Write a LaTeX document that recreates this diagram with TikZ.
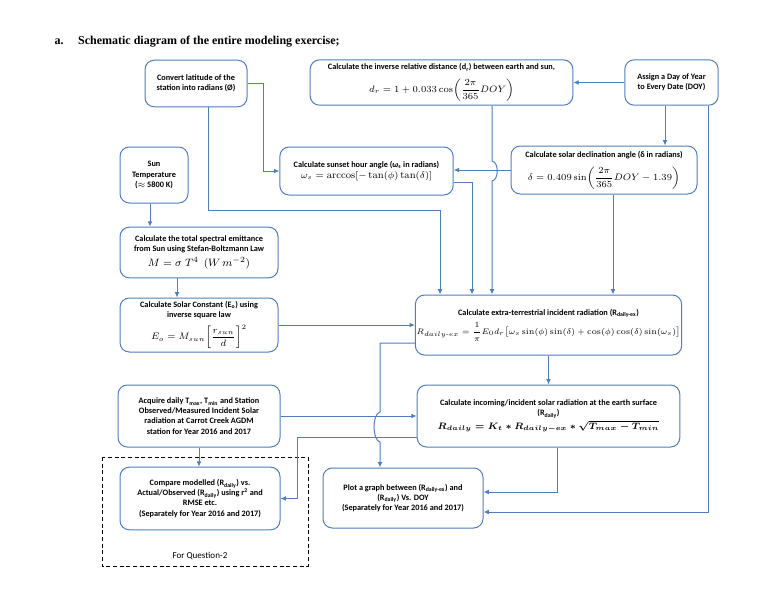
\documentclass[tikz,border=0pt]{standalone}
\usepackage{fontspec}
\usepackage{amsmath}
\setsansfont{Carlito}
\newfontfamily\titlefont{Liberation Serif}
\usetikzlibrary{calc,arrows.meta}
\definecolor{flowblue}{RGB}{79,125,192}
\def\eqfont{\normalfont\fontsize{7}{8.5}\selectfont}
\tikzset{
  box/.style={draw=flowblue, line width=0.75pt, rounded corners=7pt, align=center, inner sep=1pt,
    font=\sffamily\bfseries\fontsize{6.2}{7.6}\selectfont},
  link/.style={draw=flowblue, line width=0.75pt, -{Latex[length=4pt,width=3.6pt]}},
  wire/.style={draw=flowblue, line width=0.75pt}
}

\begin{document}
\begin{tikzpicture}[x=0.75pt,y=-0.75pt]
			%%%%% START %%%%%
			\useasboundingbox (0,0) rectangle (768,594);
			
			\node[anchor=west, font=\titlefont\bfseries\fontsize{9}{11}\selectfont] (title) at (50,42) {a.\hspace{1.2em}Schematic diagram of the entire modeling exercise;};
			
			% top row
			\node[box, minimum width=76.5pt, minimum height=35pt] (lat) at (196,83.5) {Convert latitude of the\\station into radians (Ø)};
			\node[box, minimum width=197pt, minimum height=34pt] (dr) at (441.5,82.5) {Calculate the inverse relative distance (d\textsubscript{r}) between earth and sun,\\[5pt]{\eqfont$d_r = 1+0.033\cos\!\left(\dfrac{2\pi}{365}DOY\right)$}};
			\node[box, minimum width=70pt, minimum height=34pt] (doy) at (671.5,82.5) {Assign a Day of Year\\to Every Date (DOY)};
			
			% second row
			\node[box, minimum width=51pt, minimum height=42pt] (sun) at (154,175) {Sun\\Temperature\\($\approx$ 5800 K)};
			\node[box, minimum width=130pt, minimum height=36pt] (sunset) at (366.5,171) {Calculate sunset hour angle (ω\textsubscript{s} in radians)\\[1pt]{\eqfont\fontsize{7.5}{9}\selectfont$\omega_s = \arccos[-\tan(\phi)\tan(\delta)]$}};
			\node[box, minimum width=139.5pt, minimum height=36pt] (decl) at (604,170) {Calculate solar declination angle (δ in radians)\\[5pt]{\eqfont$\delta = 0.409\sin\!\left(\dfrac{2\pi}{365}DOY - 1.39\right)$}};
			
			% left column
			\node[box, minimum width=118.5pt, minimum height=38pt] (spec) at (199,252.5) {Calculate the total spectral emittance\\from Sun using Stefan-Boltzmann Law\\[2pt]{\eqfont\fontsize{8}{9.5}\selectfont$M = \sigma\;T^4\;\,(W\,m^{-2})$}};
			\node[box, minimum width=118.5pt, minimum height=40.5pt] (solc) at (199,325) {Calculate Solar Constant (E\textsubscript{o}) using\\inverse square law\\[4pt]{\eqfont$E_o = M_{sun}\!\left[\dfrac{r_{sun}}{d}\right]^2$}};
			\node[box, minimum width=121.5pt, minimum height=46.5pt] (acq) at (199,416) {Acquire daily T\textsubscript{max}, T\textsubscript{min} and Station\\Observed/Measured Incident Solar\\radiation at Carrot Creek AGDM\\station for Year 2016 and 2017};
			\node[box, minimum width=120pt, minimum height=47pt] (comp) at (200,498.5) {Compare modelled (R\textsubscript{daily}) vs.\\Actual/Observed (R\textsubscript{daily}) using r\textsuperscript{2} and\\RMSE etc.\\(Separately for Year 2016 and 2017)};
			
			% right column
			\node[box, minimum width=197pt, minimum height=45pt] (extra) at (548.5,325) {Calculate extra-terrestrial incident radiation (R\textsubscript{daily-ex})\\[3pt]{\eqfont\fontsize{6.3}{7.5}\selectfont$R_{daily\text{-}ex} = \dfrac{1}{\pi}E_0 d_r\big[\omega_s\sin(\phi)\sin(\delta)+\cos(\phi)\cos(\delta)\sin(\omega_s)\big]$}};
			\node[box, minimum width=197pt, minimum height=46.5pt] (inc) at (548.5,416) {Calculate incoming/incident solar radiation at the earth surface\\(R\textsubscript{daily})\\[1pt]{\eqfont\boldmath$R_{daily} = K_t * R_{daily-ex} * \sqrt{T_{max}-T_{min}}$}};
			\node[box, minimum width=120pt, minimum height=45pt] (plot) at (403,498) {Plot a graph between (R\textsubscript{daily-ex}) and\\(R\textsubscript{daily}) Vs. DOY\\(Separately for Year 2016 and 2017)};
			
			% question-2 frame
			\draw[densely dashed, line width=0.6pt] (102,457) rectangle (308,566);
			\node[font=\sffamily\fontsize{6.8}{8}\selectfont] (q2) at (200,556) {For Question-2};
			
			% guide coordinates
			\coordinate (xdoy) at (665,0);
			\coordinate (xdoyr) at (708,0);
			\coordinate (xdr) at (492,0);
			\coordinate (xss) at (472,0);
			\coordinate (xdec) at (613,0);
			\coordinate (xlr) at (263,0);
			\coordinate (xlb) at (208,0);
			\coordinate (xle) at (440,0);
			\coordinate (xsun) at (150,0);
			\coordinate (xspec) at (177,0);
			\coordinate (xep) at (380,0);
			\coordinate (xcm) at (297,0);
			\coordinate (xinc) at (557,0);
			\coordinate (yss) at (0,182);
			\coordinate (ylat) at (0,210);
			\coordinate (yex) at (0,343);
			\coordinate (yic) at (0,437);
			\coordinate (ypa) at (0,492);
			\coordinate (ypb) at (0,512);
			\coordinate (hopa) at (492,171);
			\coordinate (hopb) at (380,427);
			
			% connectors
			\draw[link] (doy.west) -- (doy.west -| dr.east);
			\draw[link] (doy.south -| xdoy) -- (decl.north -| xdoy);
			\draw[link] (doy.south -| xdoyr) |- (plot.east |- ypb);
			\draw[link] (dr.south -| xdr) -- ($(hopa)+(0,-10)$) .. controls +(7,1) and +(7,-1) .. ($(hopa)+(0,10)$) -- (extra.north -| xdr);
			\draw[link] (decl.west) -- (decl.west -| sunset.east);
			\draw[link] (sunset.east |- yss) -| (extra.north -| xss);
			\draw[link] (decl.south -| xdec) -- (extra.north -| xdec);
			\draw[link] (lat.east) -- (lat.east -| xlr) |- (sunset.west);
			\draw[link] (lat.south -| xlb) |- (ylat -| xle) -- (extra.north -| xle);
			\draw[link] (sun.south -| xsun) -- (spec.north -| xsun);
			\draw[link] (spec.south -| xspec) -- (solc.north -| xspec);
			\draw[link] (solc.east) -- (solc.east -| extra.west);
			\draw[link] (extra.south) -- (inc.north);
			\draw[link] (extra.west |- yex) -- (yex -| xep) -- ($(hopb)+(0,-15)$) .. controls +(-8,2) and +(-8,-2) .. ($(hopb)+(0,15)$) -- (plot.north -| xep);
			\draw[link] (acq.east) -- (acq.east -| inc.west);
			\draw[link] (inc.west |- yic) -| (comp.east -| xcm) -- (comp.east);
			\draw[link] (acq.south) -- (acq.south |- comp.north);
			\draw[link] (inc.south -| xinc) |- (plot.east |- ypa);
			
			%%%%% END %%%%%
\end{tikzpicture}
\end{document}
